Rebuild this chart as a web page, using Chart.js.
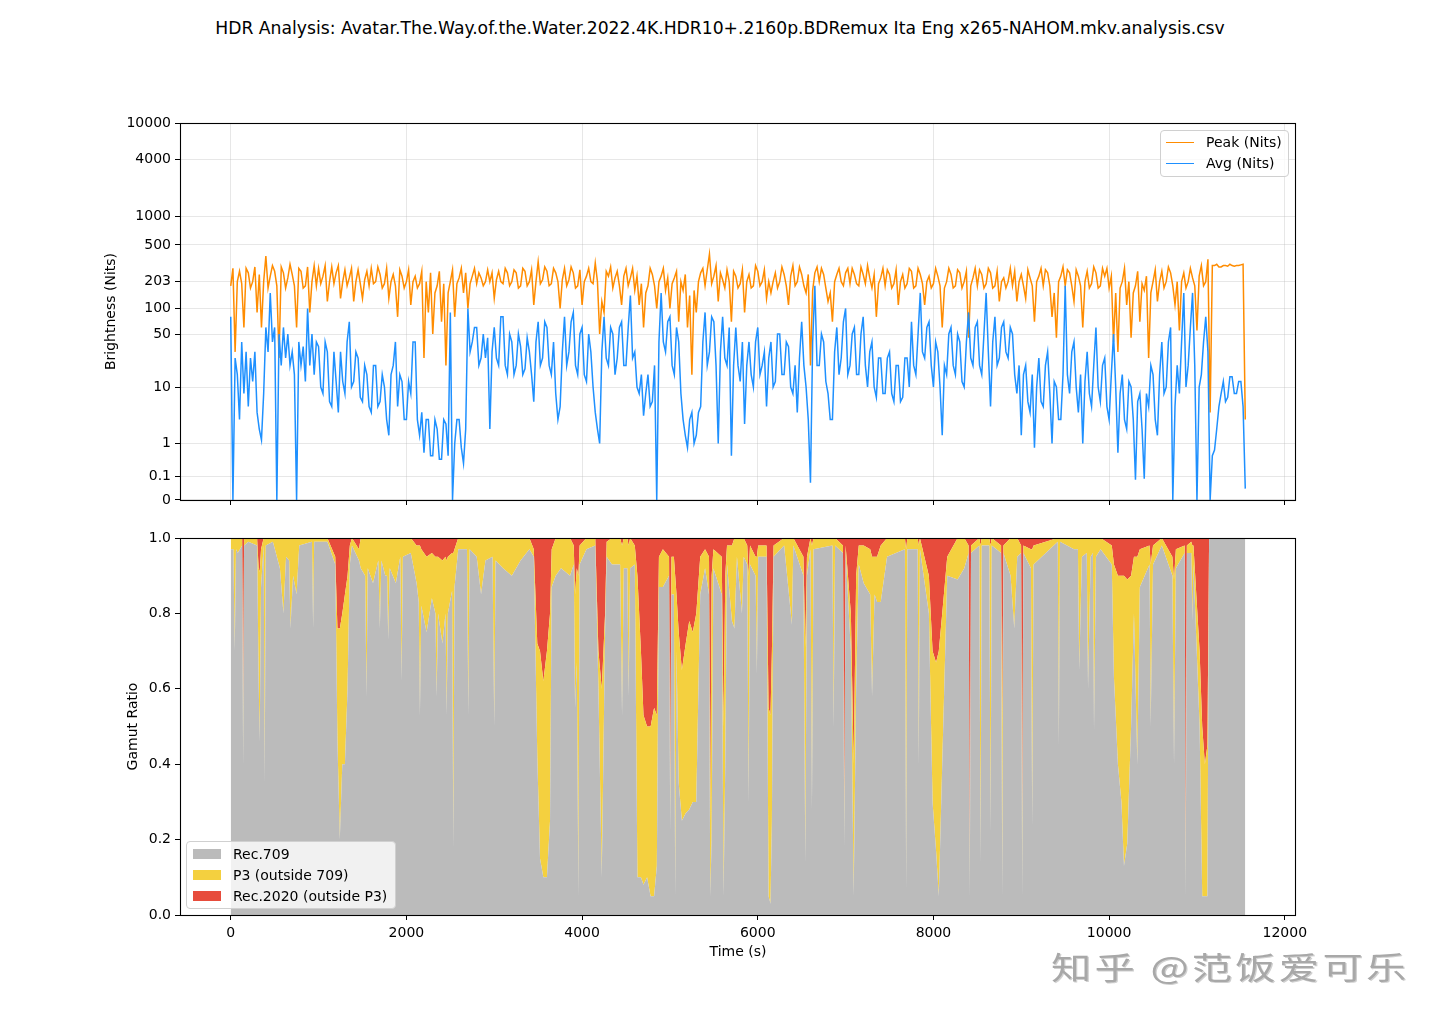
<!DOCTYPE html>
<html>
<head>
<meta charset="utf-8">
<script src="https://cdn.jsdelivr.net/npm/chart.js@4.4.1/dist/chart.umd.min.js"></script>
<style>
  body { margin: 0; width: 1440px; height: 1029px; background: #fff; position: relative; overflow: hidden;
         font-family: 'DejaVu Sans', sans-serif; color: #000; }
  canvas { position: absolute; left: 0; }
  #title { position: absolute; top: 18px; left: 0; width: 1440px; text-align: center; font-size: 17.2px; }
  .legend { position: absolute; background: rgba(255,255,255,0.8); border: 1px solid #d0d0d0; border-radius: 4px;
            font-size: 14px; box-sizing: border-box; }
  .legend .row { position: absolute; left: 0; height: 21px; line-height: 21px; white-space: nowrap; }
  .legend .handle { position: absolute; top: 10px; height: 1.3px; width: 28px; }
  .legend .patch { position: absolute; top: 5.5px; height: 10px; width: 28px; }
  .legend .text { position: absolute; }
  #watermark { position: absolute; left: 1051px; top: 950px; font-family: 'Noto Sans CJK SC', sans-serif;
               font-size: 31px; line-height: 31px; letter-spacing: 2.5px; color: #a8a8a8; white-space: nowrap;
               transform: scaleX(1.3); transform-origin: left top; text-shadow: 1px 1px 0 rgba(120,120,120,0.35); }
</style>
</head>
<body>
<div id="title">HDR Analysis: Avatar.The.Way.of.the.Water.2022.4K.HDR10+.2160p.BDRemux Ita Eng x265-NAHOM.mkv.analysis.csv</div>
<canvas id="brightnessChart" width="1440" height="420" style="top:100px"></canvas>
<canvas id="gamutChart" width="1440" height="460" style="top:520px"></canvas>
<div id="brightnessLegend" class="legend" style="left:1160px; top:130px; width:129px; height:47px"></div>
<div id="gamutLegend" class="legend" style="left:186px; top:841px; width:210px; height:68px"></div>
<div id="watermark">知乎 @范饭爱可乐</div>
<script>
// brightness readings every 25 s, 0 .. 11550 s (one row = 500 s)
const SAMPLE_STEP = 25;

const peakNits = [
    180, 280, 30, 200, 260, 190, 60, 280, 250, 170, 200, 290, 90, 240, 60, 200, 380, 170, 230, 300,
    260, 180, 25, 290, 250, 170, 220, 310, 240, 180, 60, 280, 260, 170, 180, 290, 90, 200, 300, 180,
    280, 190, 230, 300, 120, 200, 290, 190, 250, 300, 130, 200, 270, 180, 220, 280, 120, 200, 270, 190,
    130, 210, 260, 180, 280, 190, 200, 290, 240, 170, 190, 280, 130, 200, 240, 180, 80, 270, 230, 170,
    200, 270, 110, 200, 230, 170, 190, 260, 25, 200, 90, 250, 50, 150, 180, 260, 70, 190, 20, 150,
    200, 270, 80, 190, 220, 280, 150, 250, 100, 190, 230, 280, 190, 250, 220, 180, 200, 270, 200, 250,
    130, 210, 260, 200, 190, 280, 250, 180, 200, 270, 250, 170, 180, 280, 260, 180, 200, 270, 110, 200,
    330, 190, 210, 290, 260, 180, 190, 280, 250, 200, 100, 210, 280, 180, 210, 290, 250, 170, 180, 270,
    110, 200, 230, 280, 200, 190, 320, 200, 50, 120, 90, 260, 230, 290, 170, 220, 260, 180, 110, 230,
    280, 180, 220, 280, 160, 230, 110, 190, 60, 150, 180, 280, 240, 180, 100, 200, 230, 280, 160, 220,
    100, 190, 220, 260, 70, 200, 160, 240, 60, 140, 15, 160, 90, 200, 250, 280, 180, 270, 400, 190,
    230, 300, 120, 250, 210, 170, 270, 200, 70, 260, 230, 170, 190, 270, 90, 200, 240, 170, 180, 300,
    260, 180, 200, 270, 130, 200, 150, 200, 250, 170, 200, 290, 240, 180, 110, 230, 300, 180, 200, 290,
    240, 180, 150, 240, 20, 160, 250, 290, 200, 280, 240, 170, 120, 150, 70, 200, 240, 280, 200, 180,
    250, 280, 190, 280, 240, 190, 180, 290, 240, 190, 300, 220, 170, 240, 80, 190, 220, 280, 180, 270,
    240, 170, 190, 270, 110, 200, 240, 170, 190, 280, 260, 170, 180, 280, 240, 190, 110, 200, 230, 170,
    190, 280, 230, 180, 60, 170, 200, 280, 240, 170, 180, 270, 250, 170, 200, 260, 45, 180, 220, 280,
    180, 270, 240, 170, 190, 280, 250, 170, 180, 260, 120, 200, 220, 170, 200, 280, 180, 260, 120, 200,
    240, 180, 130, 270, 220, 180, 70, 200, 230, 280, 180, 270, 250, 180, 80, 150, 45, 200, 230, 290,
    180, 270, 250, 180, 120, 270, 230, 180, 60, 200, 260, 170, 190, 290, 250, 170, 180, 280, 230, 280,
    170, 230, 40, 150, 30, 170, 200, 280, 110, 200, 45, 150, 180, 260, 70, 190, 160, 230, 25, 150,
    200, 270, 120, 200, 260, 170, 200, 290, 250, 180, 110, 200, 55, 200, 250, 170, 200, 280, 220, 180,
    55, 230, 300, 180, 200, 350, 4, 300, 300, 310, 290, 290, 300, 300, 295, 310, 300, 295, 300, 300,
    305, 310, 3
];

const avgNits = [
    80, 0, 25, 15, 3, 40, 8, 30, 5, 25, 12, 30, 4, 2, 1.2, 8, 60, 30, 150, 40,
    60, 0, 50, 20, 60, 25, 50, 20, 30, 15, 0, 40, 20, 35, 12, 100, 20, 50, 15, 40,
    35, 10, 8, 40, 30, 6, 5, 30, 12, 4, 30, 12, 8, 40, 70, 10, 12, 30, 25, 7,
    6, 20, 15, 5, 4, 20, 20, 5, 6, 15, 10, 3, 1.5, 15, 20, 40, 5, 15, 12, 3,
    3, 12, 8, 40, 40, 3, 1.5, 4, 0.6, 3, 3, 0.5, 0.5, 3, 2, 0.4, 0.4, 3, 2.5, 0.5,
    90, 0, 1, 3, 3, 0.8, 0.3, 2, 100, 30, 40, 60, 60, 20, 25, 50, 25, 45, 2, 30,
    60, 25, 20, 80, 80, 20, 15, 50, 40, 15, 20, 50, 35, 15, 18, 45, 30, 15, 6, 40,
    70, 20, 25, 70, 60, 20, 15, 40, 8, 3, 5, 30, 80, 20, 30, 70, 90, 20, 15, 50,
    60, 15, 12, 50, 30, 10, 4, 2, 1, 30, 80, 25, 20, 60, 50, 15, 25, 60, 70, 20,
    20, 60, 140, 25, 30, 10, 8, 15, 3.5, 8, 15, 5, 6, 20, 0, 40, 150, 40, 30, 70,
    80, 20, 15, 60, 40, 8, 3, 1.5, 0.8, 3, 4, 1, 1.5, 4, 5, 40, 90, 20, 30, 80,
    70, 20, 1, 30, 80, 25, 20, 60, 0.5, 20, 60, 20, 12, 40, 2.5, 20, 40, 15, 10, 40,
    60, 15, 20, 30, 5, 25, 40, 10, 12, 50, 50, 15, 15, 40, 35, 10, 8, 20, 4, 25,
    70, 20, 10, 3, 0.05, 40, 180, 20, 20, 50, 40, 12, 8, 3, 3, 30, 60, 15, 25, 70,
    100, 15, 20, 50, 60, 15, 15, 50, 80, 20, 10, 30, 40, 10, 7, 25, 25, 8, 8, 25,
    30, 8, 6, 20, 20, 6, 7, 25, 25, 10, 70, 20, 15, 50, 150, 30, 25, 60, 70, 20,
    10, 40, 30, 10, 1.5, 20, 15, 50, 60, 20, 15, 50, 40, 12, 10, 40, 90, 25, 20, 60,
    70, 20, 15, 50, 150, 30, 5, 40, 80, 20, 25, 60, 70, 30, 25, 60, 50, 15, 8, 20,
    1.5, 15, 20, 6, 4, 15, 0.8, 10, 25, 6, 5, 20, 30, 8, 1, 12, 10, 3, 3, 15,
    180, 15, 8, 30, 40, 10, 4, 15, 1, 12, 30, 8, 5, 20, 60, 10, 6, 20, 25, 5,
    3, 15, 50, 10, 0.6, 8, 15, 3, 2, 12, 10, 3, 0.07, 6, 8, 2, 0.08, 8, 5, 20,
    15, 3, 1.5, 15, 40, 8, 10, 40, 60, 0, 5, 20, 8, 40, 150, 10, 20, 60, 150, 20,
    0, 10, 15, 40, 80, 30, 0, 0.5, 0.7, 2, 5, 8, 12, 6, 7, 14, 14, 8, 8, 12,
    12, 5, 0.02
];

// gamut readings: time (s), share outside Rec.709 but inside P3, share outside P3
const gamutTime = [
    0, 30, 46, 60, 80, 130, 141, 152, 200, 300,
    318, 330, 345, 375, 387, 399, 480, 560, 600, 630,
    665, 680, 710, 750, 780, 925, 938, 950, 1100, 1190,
    1215, 1242, 1270, 1300, 1330, 1356, 1380, 1460, 1480, 1530,
    1546, 1560, 1620, 1680, 1698, 1715, 1760, 1780, 1793, 1810,
    1880, 1930, 1945, 1960, 2050, 2116, 2140, 2154, 2170, 2230,
    2290, 2330, 2344, 2360, 2410, 2445, 2458, 2472, 2520, 2534,
    2548, 2590, 2690, 2705, 2720, 2800, 2850, 2900, 2980, 3000,
    3015, 3100, 3200, 3300, 3400, 3450, 3490, 3521, 3559, 3600,
    3635, 3654, 3700, 3760, 3863, 3905, 3920, 3940, 3958, 3972,
    4050, 4150, 4186, 4224, 4262, 4280, 4340, 4433, 4455, 4475,
    4515, 4530, 4547, 4600, 4630, 4670, 4699, 4740, 4780, 4820,
    4851, 4875, 4920, 4990, 5003, 5018, 5045, 5060, 5075, 5100,
    5136, 5180, 5220, 5260, 5300, 5345, 5400, 5445, 5459, 5475,
    5495, 5590, 5611, 5630, 5650, 5706, 5735, 5763, 5820, 5840,
    5880, 5896, 5912, 5975, 5990, 6005, 6100, 6123, 6145, 6161,
    6180, 6300, 6389, 6405, 6520, 6541, 6560, 6600, 6617, 6635,
    6850, 6864, 6880, 6970, 6985, 7000, 7060, 7092, 7120, 7150,
    7206, 7280, 7301, 7330, 7358, 7400, 7472, 7675, 7689, 7703,
    7820, 7833, 7846, 7948, 7990, 8030, 8061, 8100, 8157, 8275,
    8351, 8400, 8414, 8428, 8522, 8536, 8550, 8636, 8650, 8664,
    8770, 8783, 8797, 8878, 8920, 8954, 8998, 9010, 9024, 9110,
    9124, 9140, 9415, 9428, 9441, 9600, 9645, 9660, 9690, 9745,
    9760, 9790, 9815, 9828, 9850, 9903, 10030, 10055, 10100, 10140,
    10169, 10207, 10250, 10283, 10321, 10350, 10460, 10473, 10500, 10600,
    10720, 10739, 10760, 10860, 10872, 10885, 10935, 10948, 10960, 11030,
    11060, 11090, 11119, 11138, 11550
];

const p3Share = [
    0.03, 0.03, 0.3, 0.03, 0.04, 0.02, 0.15, 0.02, 0.01, 0.02,
    0.3, 0.45, 0.1, 0.02, 0.65, 0.02, 0.01, 0.08, 0.2, 0.05,
    0.06, 0.24, 0.1, 0.15, 0.02, 0.01, 0.24, 0.01, 0.01, 0.02,
    0.3, 0.56, 0.4, 0.45, 0.3, 0.05, 0.02, 0.03, 0.08, 0.1,
    0.42, 0.08, 0.12, 0.06, 0.24, 0.06, 0.1, 0.1, 0.27, 0.08,
    0.12, 0.05, 0.38, 0.05, 0.04, 0.1, 0.15, 0.45, 0.15, 0.2,
    0.12, 0.15, 0.37, 0.15, 0.22, 0.15, 0.41, 0.15, 0.1, 0.78,
    0.1, 0.03, 0.03, 0.47, 0.03, 0.05, 0.15, 0.06, 0.05, 0.5,
    0.06, 0.08, 0.1, 0.06, 0.03, 0.02, 0.3, 0.55, 0.52, 0.6,
    0.55, 0.1, 0.1, 0.08, 0.1, 0.05, 0.3, 0.25, 0.85, 0.05,
    0.03, 0.02, 0.1, 0.5, 0.05, 0.04, 0.07, 0.07, 0.45, 0.08,
    0.08, 0.4, 0.08, 0.05, 0.8, 0.6, 0.45, 0.4, 0.45, 0.5,
    0.4, 0.08, 0.1, 0.05, 0.1, 0.1, 0.1, 0.85, 0.15, 0.4,
    0.4, 0.45, 0.5, 0.45, 0.5, 0.1, 0.05, 0.1, 0.2, 0.7,
    0.05, 0.1, 0.45, 0.5, 0.05, 0.2, 0.24, 0.05, 0.2, 0.05,
    0.05, 0.6, 0.05, 0.05, 0.31, 0.03, 0.03, 0.5, 0.5, 0.45,
    0.03, 0.02, 0.23, 0.02, 0.05, 0.57, 0.05, 0.03, 0.7, 0.03,
    0.02, 0.5, 0.02, 0.02, 0.1, 0.02, 0.1, 0.35, 0.3, 0.05,
    0.1, 0.12, 0.37, 0.1, 0.12, 0.15, 0.05, 0.03, 0.9, 0.03,
    0.03, 0.58, 0.03, 0.1, 0.4, 0.5, 0.65, 0.4, 0.05, 0.11,
    0.08, 0.02, 0.1, 0.02, 0.02, 0.84, 0.02, 0.02, 0.76, 0.02,
    0.02, 0.45, 0.02, 0.1, 0.24, 0.05, 0.02, 0.2, 0.02, 0.05,
    0.73, 0.05, 0.01, 0.55, 0.01, 0.03, 0.03, 0.35, 0.05, 0.04,
    0.4, 0.05, 0.04, 0.51, 0.05, 0.03, 0.05, 0.3, 0.5, 0.6,
    0.77, 0.7, 0.4, 0.15, 0.55, 0.1, 0.05, 0.43, 0.05, 0.02,
    0.05, 0.49, 0.05, 0.02, 0.1, 0.02, 0.03, 0.2, 0.05, 0.2,
    0.45, 0.35, 0.4, 0, 0
];

const rec2020Share = [
    0, 0, 0, 0, 0, 0, 0.45, 0, 0, 0,
    0.08, 0.09, 0.03, 0, 0, 0, 0, 0, 0, 0,
    0, 0, 0, 0, 0, 0, 0, 0, 0, 0.05,
    0.24, 0.24, 0.2, 0.15, 0.1, 0.02, 0, 0.03, 0, 0,
    0, 0, 0, 0, 0, 0, 0, 0, 0, 0,
    0, 0, 0, 0, 0, 0.02, 0.02, 0.02, 0.03, 0.05,
    0.04, 0.05, 0.05, 0.05, 0.06, 0.05, 0.06, 0.05, 0.04, 0.04,
    0.03, 0, 0, 0, 0, 0, 0, 0, 0, 0,
    0, 0, 0, 0, 0, 0.03, 0.28, 0.3, 0.38, 0.3,
    0.2, 0.03, 0, 0, 0, 0.02, 0.15, 0.08, 0.1, 0.02,
    0, 0, 0.3, 0.4, 0.2, 0.01, 0, 0, 0.02, 0,
    0, 0.02, 0, 0.02, 0.1, 0.3, 0.47, 0.5, 0.5, 0.45,
    0.47, 0.05, 0.03, 0.05, 0.68, 0.05, 0.05, 0.1, 0.15, 0.25,
    0.35, 0.28, 0.22, 0.25, 0.2, 0.05, 0.03, 0.05, 0.75, 0.1,
    0.03, 0.05, 0.5, 0.1, 0.02, 0.02, 0, 0, 0, 0,
    0.02, 0.1, 0.02, 0.05, 0.05, 0.02, 0.02, 0.45, 0.47, 0.3,
    0.02, 0, 0, 0, 0.05, 0.29, 0.05, 0, 0.02, 0,
    0, 0, 0, 0.02, 0.72, 0.02, 0.2, 0.6, 0.1, 0.02,
    0.02, 0.03, 0.05, 0.05, 0.05, 0.02, 0, 0, 0.03, 0,
    0, 0.02, 0, 0.1, 0.3, 0.33, 0.3, 0.2, 0.05, 0,
    0, 0.02, 0.85, 0.02, 0, 0.02, 0, 0, 0.02, 0,
    0.02, 0.5, 0.02, 0, 0, 0, 0.02, 0.75, 0.02, 0.03,
    0.03, 0.02, 0, 0, 0, 0, 0, 0, 0, 0,
    0, 0, 0, 0, 0, 0, 0.02, 0.07, 0.1, 0.1,
    0.1, 0.11, 0.1, 0.05, 0.05, 0.03, 0.02, 0.07, 0.02, 0,
    0.05, 0.11, 0.03, 0.02, 0.85, 0.02, 0.01, 0.02, 0.02, 0.3,
    0.5, 0.6, 0.55, 0, 0
];

const brightnessTicks = [0, 0.1, 1, 10, 50, 100, 203, 500, 1000, 4000, 10000];
const timeTicks = [0, 2000, 4000, 6000, 8000, 10000, 12000];
const gamutTicks = [0, 0.2, 0.4, 0.6, 0.8, 1.0];

const timeSec = peakNits.map((_, i) => i * SAMPLE_STEP);
const rec709Share = p3Share.map((v, i) => 1 - v - rec2020Share[i]);

// SMPTE ST 2084 PQ curve: nits -> signal 0..1
function pq(nits) {
    const m1 = 2610 / 16384, m2 = 2523 / 4096 * 128;
    const c1 = 3424 / 4096, c2 = 2413 / 4096 * 32, c3 = 2392 / 4096 * 32;
    const y = Math.pow(Math.max(nits, 0) / 10000, m1);
    return Math.pow((c1 + c2 * y) / (1 + c3 * y), m2);
}

function pqInverse(signal) {
    const m1 = 2610 / 16384, m2 = 2523 / 4096 * 128;
    const c1 = 3424 / 4096, c2 = 2413 / 4096 * 32, c3 = 2392 / 4096 * 32;
    const e = Math.pow(Math.min(Math.max(signal, 0), 1), 1 / m2);
    return 10000 * Math.pow(Math.max(e - c1, 0) / (c2 - c3 * e), 1 / m1);
}

// y axis spaced like the PQ signal, labelled in nits
class PQScale extends Chart.LinearScale {
    determineDataLimits() {
        this.min = 0;
        this.max = 10000;
    }
    buildTicks() {
        return brightnessTicks.map((v) => ({ value: v }));
    }
    getPixelForValue(value) {
        return this.getPixelForDecimal(pq(value));
    }
    getValueForPixel(pixel) {
        return pqInverse(this.getDecimalForPixel(pixel));
    }
}
PQScale.id = 'pq';
PQScale.defaults = {};
Chart.register(PQScale);

Chart.defaults.font.family = "'DejaVu Sans', sans-serif";
Chart.defaults.font.size = 14;
Chart.defaults.color = '#000';

const axesFrame = {
    id: 'axesFrame',
    afterDraw(chart) {
        const { ctx, chartArea: a } = chart;
        ctx.save();
        ctx.strokeStyle = '#000';
        ctx.lineWidth = 1.1;
        ctx.strokeRect(Math.round(a.left) + 0.5, Math.round(a.top) + 0.5,
            Math.round(a.right - a.left) - 1, Math.round(a.bottom - a.top));
        ctx.restore();
    }
};

function points(times, values) {
    return values.map((v, i) => ({ x: times[i], y: v }));
}

const timeRange = { min: -577.5, max: 12127.5 };
const tickMarks = { tickColor: '#000', tickLength: 5, tickWidth: 1 };

const brightnessChart = new Chart(document.getElementById('brightnessChart'), {
    type: 'line',
    data: {
        datasets: [
            {
                label: 'Peak (Nits)',
                data: points(timeSec, peakNits),
                borderColor: '#ff8c00',
                borderWidth: 1.5,
                pointRadius: 0,
                order: 1
            },
            {
                label: 'Avg (Nits)',
                data: points(timeSec, avgNits),
                borderColor: '#1e90ff',
                borderWidth: 1.5,
                pointRadius: 0,
                order: 0
            }
        ]
    },
    plugins: [axesFrame],
    options: {
        responsive: false,
        animation: false,
        events: [],
        devicePixelRatio: 1,
        layout: { padding: { left: 99, right: 144, top: 23, bottom: 0 } },
        plugins: { legend: { display: false }, tooltip: { enabled: false } },
        scales: {
            x: {
                type: 'linear',
                ...timeRange,
                afterBuildTicks: (s) => { s.ticks = timeTicks.map((v) => ({ value: v })); },
                afterFit: (s) => { s.height = 20; },
                ticks: { display: false },
                grid: { color: 'rgba(176,176,176,0.3)', ...tickMarks },
                border: { display: false }
            },
            y: {
                type: 'pq',
                position: 'left',
                afterFit: (s) => { s.width = 81; },
                ticks: { padding: 4, callback: (v) => String(v) },
                grid: { color: 'rgba(176,176,176,0.3)', ...tickMarks },
                border: { display: false },
                title: { display: true, text: 'Brightness (Nits)', padding: { top: 4, bottom: 4 } }
            }
        }
    }
});

const gamutChart = new Chart(document.getElementById('gamutChart'), {
    type: 'line',
    data: {
        datasets: [
            { label: 'Rec.709', data: points(gamutTime, rec709Share), backgroundColor: '#bbbbbb', fill: 'origin' },
            { label: 'P3 (outside 709)', data: points(gamutTime, p3Share), backgroundColor: '#f4d03f', fill: '-1' },
            { label: 'Rec.2020 (outside P3)', data: points(gamutTime, rec2020Share), backgroundColor: '#e74c3c', fill: '-1' }
        ].map((d) => ({ ...d, borderWidth: 0, pointRadius: 0 }))
    },
    plugins: [axesFrame],
    options: {
        responsive: false,
        animation: false,
        events: [],
        devicePixelRatio: 1,
        layout: { padding: { left: 121, right: 144, top: 18, bottom: 15 } },
        plugins: { legend: { display: false }, tooltip: { enabled: false } },
        scales: {
            x: {
                type: 'linear',
                ...timeRange,
                afterBuildTicks: (s) => { s.ticks = timeTicks.map((v) => ({ value: v })); },
                afterFit: (s) => { s.height = 50; },
                ticks: { padding: 5, callback: (v) => String(v) },
                grid: { drawOnChartArea: false, ...tickMarks },
                border: { display: false },
                title: { display: true, text: 'Time (s)', padding: { top: 4, bottom: 4 } }
            },
            y: {
                stacked: true,
                min: 0,
                max: 1,
                afterBuildTicks: (s) => { s.ticks = gamutTicks.map((v) => ({ value: v })); },
                afterFit: (s) => { s.width = 59; },
                ticks: { padding: 4, callback: (v) => v.toFixed(1) },
                grid: { drawOnChartArea: false, ...tickMarks },
                border: { display: false },
                title: { display: true, text: 'Gamut Ratio', padding: { top: 4, bottom: 4 } }
            }
        }
    }
});

// matplotlib-style legends built from the datasets
function buildLegend(el, chart, kind, handleLeft, textLeft, firstTop) {
    chart.data.datasets.forEach((ds, i) => {
        const row = document.createElement('div');
        row.className = 'row';
        row.style.top = (firstTop + i * 21) + 'px';
        const mark = document.createElement('span');
        mark.className = kind;
        mark.style.left = handleLeft + 'px';
        mark.style.background = kind === 'handle' ? ds.borderColor : ds.backgroundColor;
        const text = document.createElement('span');
        text.className = 'text';
        text.style.left = textLeft + 'px';
        text.textContent = ds.label;
        row.appendChild(mark);
        row.appendChild(text);
        el.appendChild(row);
    });
}

buildLegend(document.getElementById('brightnessLegend'), brightnessChart, 'handle', 5, 45, 0.5);
buildLegend(document.getElementById('gamutLegend'), gamutChart, 'patch', 6, 46, 1.5);
</script>
</body>
</html>
